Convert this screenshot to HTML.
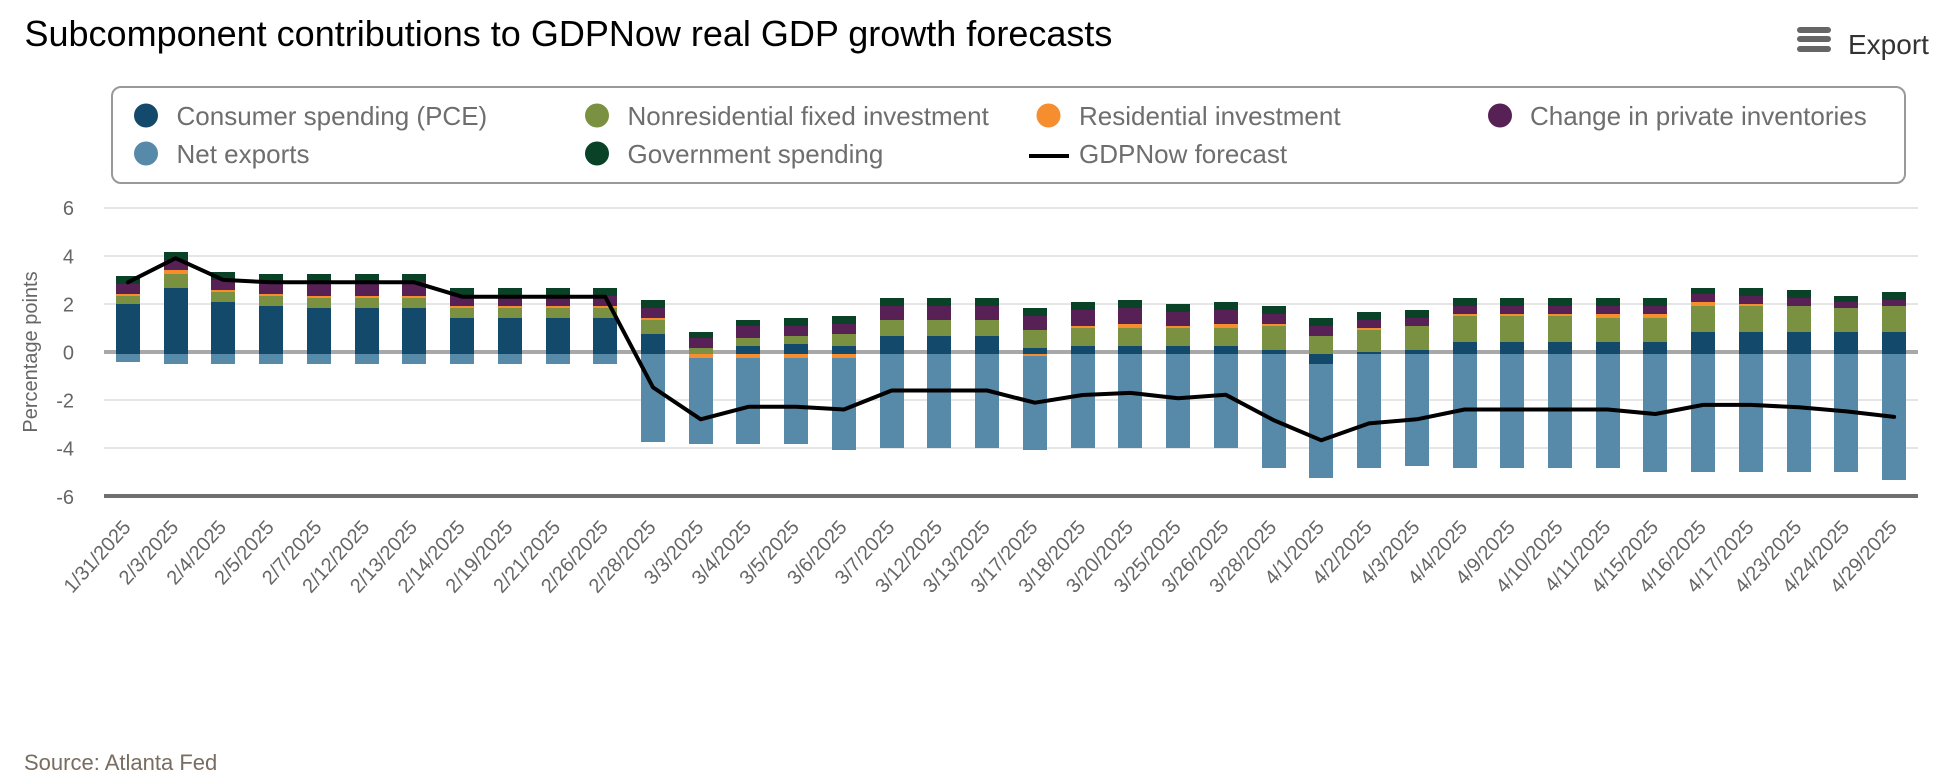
<!DOCTYPE html>
<html lang="en">
<head>
<meta charset="utf-8">
<title>Subcomponent contributions to GDPNow real GDP growth forecasts</title>
<style>
html,body{margin:0;padding:0;background:#fff;width:1950px;height:784px;overflow:hidden}
svg{display:block;font-family:"Liberation Sans",Arial,sans-serif}
</style>
</head>
<body>
<svg id="chart" width="1950" height="784" viewBox="0 0 1950 784" xmlns="http://www.w3.org/2000/svg">
  <text x="24.5" y="46" font-size="36" fill="#000">Subcomponent contributions to GDPNow real GDP growth forecasts</text>

  <g>
    <rect x="1797" y="27" width="34" height="6" rx="3" fill="#666"/>
    <rect x="1797" y="36" width="34" height="6" rx="3" fill="#666"/>
    <rect x="1797" y="46" width="34" height="6" rx="3" fill="#666"/>
    <text x="1848" y="54" font-size="28" fill="#333">Export</text>
  </g>

  <g>
    <rect x="112" y="87" width="1793" height="96" rx="9" fill="#fff" stroke="#999" stroke-width="2"/>
    <g>
      <circle cx="146" cy="115.5" r="12" fill="#134a6b"/>
      <text x="176.5" y="125" font-size="26" fill="#6e6e6e">Consumer spending (PCE)</text>
    </g>
    <g>
      <circle cx="146" cy="153.5" r="12" fill="#5789a8"/>
      <text x="176.5" y="163" font-size="26" fill="#6e6e6e">Net exports</text>
    </g>
    <g>
      <circle cx="597" cy="115.5" r="12" fill="#7a9141"/>
      <text x="627.5" y="125" font-size="26" fill="#6e6e6e">Nonresidential fixed investment</text>
    </g>
    <g>
      <circle cx="597" cy="153.5" r="12" fill="#0a4228"/>
      <text x="627.5" y="163" font-size="26" fill="#6e6e6e">Government spending</text>
    </g>
    <g>
      <circle cx="1048.5" cy="115.5" r="12" fill="#f68d2e"/>
      <text x="1079" y="125" font-size="26" fill="#6e6e6e">Residential investment</text>
    </g>
    <g>
      <rect x="1029" y="154" width="40" height="4" fill="#000"/>
      <text x="1079" y="163" font-size="26" fill="#6e6e6e">GDPNow forecast</text>
    </g>
    <g>
      <circle cx="1500" cy="115.5" r="12" fill="#582155"/>
      <text x="1530" y="125" font-size="26" fill="#6e6e6e">Change in private inventories</text>
    </g>
  </g>

  <text transform="translate(37,352) rotate(-90)" text-anchor="middle" font-size="20" fill="#666">Percentage points</text>
  <g id="grid"></g>
  <g id="yticks"></g>
  <g id="bars"></g>
  <polyline id="forecast" fill="none" stroke="#000" stroke-width="4" stroke-linejoin="round" stroke-linecap="round"/>
  <g id="xticks"></g>

  <text x="24" y="770" font-size="22" fill="#786d60">Source: Atlanta Fed</text>
</svg>

<script>
const categories = ["1/31/2025","2/3/2025","2/4/2025","2/5/2025","2/7/2025","2/12/2025","2/13/2025","2/14/2025","2/19/2025","2/21/2025","2/26/2025","2/28/2025","3/3/2025","3/4/2025","3/5/2025","3/6/2025","3/7/2025","3/12/2025","3/13/2025","3/17/2025","3/18/2025","3/20/2025","3/25/2025","3/26/2025","3/28/2025","4/1/2025","4/2/2025","4/3/2025","4/4/2025","4/9/2025","4/10/2025","4/11/2025","4/15/2025","4/16/2025","4/17/2025","4/23/2025","4/24/2025","4/29/2025"];
const yTicks = [6,4,2,0,-2,-4,-6];
const pce = [2.08,2.75,2.17,2.0,1.92,1.92,1.92,1.5,1.5,1.5,1.5,0.83,0,0.33,0.42,0.33,0.75,0.75,0.75,0.25,0.33,0.33,0.33,0.33,0.17,-0.42,0.08,0.17,0.5,0.5,0.5,0.5,0.5,0.92,0.92,0.92,0.92,0.92];
const nonresidential = [0.33,0.58,0.42,0.42,0.42,0.42,0.42,0.42,0.42,0.42,0.42,0.58,0.25,0.33,0.33,0.5,0.67,0.67,0.67,0.75,0.75,0.75,0.75,0.75,1.0,0.75,0.92,1.0,1.08,1.08,1.08,1.0,1.0,1.08,1.08,1.08,1.0,1.08];
const residential = [0.08,0.17,0.08,0.08,0.08,0.08,0.08,0.08,0.08,0.08,0.08,0.08,-0.17,-0.17,-0.17,-0.17,0,0,0,-0.08,0.08,0.17,0.08,0.17,0.08,0,0.08,0,0.08,0.08,0.08,0.17,0.17,0.17,0.08,0,0,0];
const inventories = [0.42,0.42,0.42,0.5,0.58,0.58,0.58,0.42,0.42,0.42,0.42,0.42,0.42,0.5,0.42,0.42,0.58,0.58,0.58,0.58,0.67,0.67,0.58,0.58,0.42,0.42,0.33,0.33,0.33,0.33,0.33,0.33,0.33,0.33,0.33,0.33,0.25,0.25];
const netExports = [-0.33,-0.42,-0.42,-0.42,-0.42,-0.42,-0.42,-0.42,-0.42,-0.42,-0.42,-3.67,-3.58,-3.58,-3.58,-3.83,-3.92,-3.92,-3.92,-3.92,-3.92,-3.92,-3.92,-3.92,-4.75,-4.75,-4.75,-4.67,-4.75,-4.75,-4.75,-4.75,-4.92,-4.92,-4.92,-4.92,-4.92,-5.25];
const government = [0.33,0.33,0.33,0.33,0.33,0.33,0.33,0.33,0.33,0.33,0.33,0.33,0.25,0.25,0.33,0.33,0.33,0.33,0.33,0.33,0.33,0.33,0.33,0.33,0.33,0.33,0.33,0.33,0.33,0.33,0.33,0.33,0.33,0.25,0.33,0.33,0.25,0.33];
const forecast = [2.9,3.9,3.0,2.9,2.9,2.9,2.9,2.3,2.3,2.3,2.3,-1.47,-2.8,-2.28,-2.28,-2.39,-1.6,-1.6,-1.6,-2.11,-1.79,-1.7,-1.92,-1.78,-2.83,-3.67,-2.97,-2.8,-2.39,-2.39,-2.39,-2.39,-2.58,-2.2,-2.2,-2.3,-2.47,-2.7];

const seriesOrder = [
  {key:'pce', values:pce, color:'#134a6b'},
  {key:'nonresidential', values:nonresidential, color:'#7a9141'},
  {key:'residential', values:residential, color:'#f68d2e'},
  {key:'inventories', values:inventories, color:'#582155'},
  {key:'net-exports', values:netExports, color:'#5789a8'},
  {key:'government', values:government, color:'#0a4228'}
];

const NS = 'http://www.w3.org/2000/svg';
const plotLeft = 104, plotRight = 1918;
const band = (plotRight - plotLeft) / categories.length;
const barWidth = 24;
const xPos = i => plotLeft + band * (i + 0.5);
const yPos = v => 352 - 24.05 * v;
const barY = v => 354 - 24 * v;

const grid = document.getElementById('grid');
const yLabels = document.getElementById('yticks');
yTicks.forEach(t => {
  const line = document.createElementNS(NS, 'rect');
  
  
  const thick = t === 0 || t === -6;
  const h = thick ? 4 : 2;
  line.setAttribute('x', plotLeft);
  line.setAttribute('width', plotRight - plotLeft);
  line.setAttribute('y', Math.round(yPos(t) - h / 2));
  line.setAttribute('height', h);
  line.setAttribute('fill', t === 0 ? '#a8a8a8' : t === -6 ? '#6f6f6f' : '#e6e6e6');
  grid.appendChild(line);

  const label = document.createElementNS(NS, 'text');
  
  
  label.setAttribute('x', 74);
  label.setAttribute('y', yPos(t) + 7.5);
  label.setAttribute('text-anchor', 'end');
  label.setAttribute('font-size', '20');
  label.setAttribute('fill', '#666');
  label.textContent = t;
  yLabels.appendChild(label);
});

const barsGroup = document.getElementById('bars');
const xLabels = document.getElementById('xticks');
categories.forEach((cat, i) => {
  let posSum = 0, negSum = 0;
  const left = Math.round(xPos(i) - barWidth / 2);
  seriesOrder.forEach(s => {
    const v = s.values[i];
    if (!v) return;
    let top, bottom;
    if (v >= 0) {
      bottom = barY(posSum);
      posSum += v;
      top = barY(posSum);
    } else {
      top = barY(negSum);
      negSum += v;
      bottom = barY(negSum);
    }
    const r = document.createElementNS(NS, 'rect');
    
    
    r.setAttribute('data-series', s.key);
    r.setAttribute('x', left);
    r.setAttribute('width', barWidth);
    r.setAttribute('y', Math.round(top));
    r.setAttribute('height', Math.round(bottom) - Math.round(top));
    r.setAttribute('fill', s.color);
    barsGroup.appendChild(r);
  });

  const label = document.createElementNS(NS, 'text');
  
  
  const lx = xPos(i) + 4, ly = 528;
  label.setAttribute('transform', 'translate(' + lx + ',' + ly + ') rotate(-48)');
  label.setAttribute('text-anchor', 'end');
  label.setAttribute('font-size', '20');
  label.setAttribute('fill', '#666');
  label.textContent = cat;
  xLabels.appendChild(label);
});

document.getElementById('forecast').setAttribute('points',
  forecast.map((v, i) => xPos(i).toFixed(1) + ',' + yPos(v).toFixed(1)).join(' '));
</script>
</body>
</html>
